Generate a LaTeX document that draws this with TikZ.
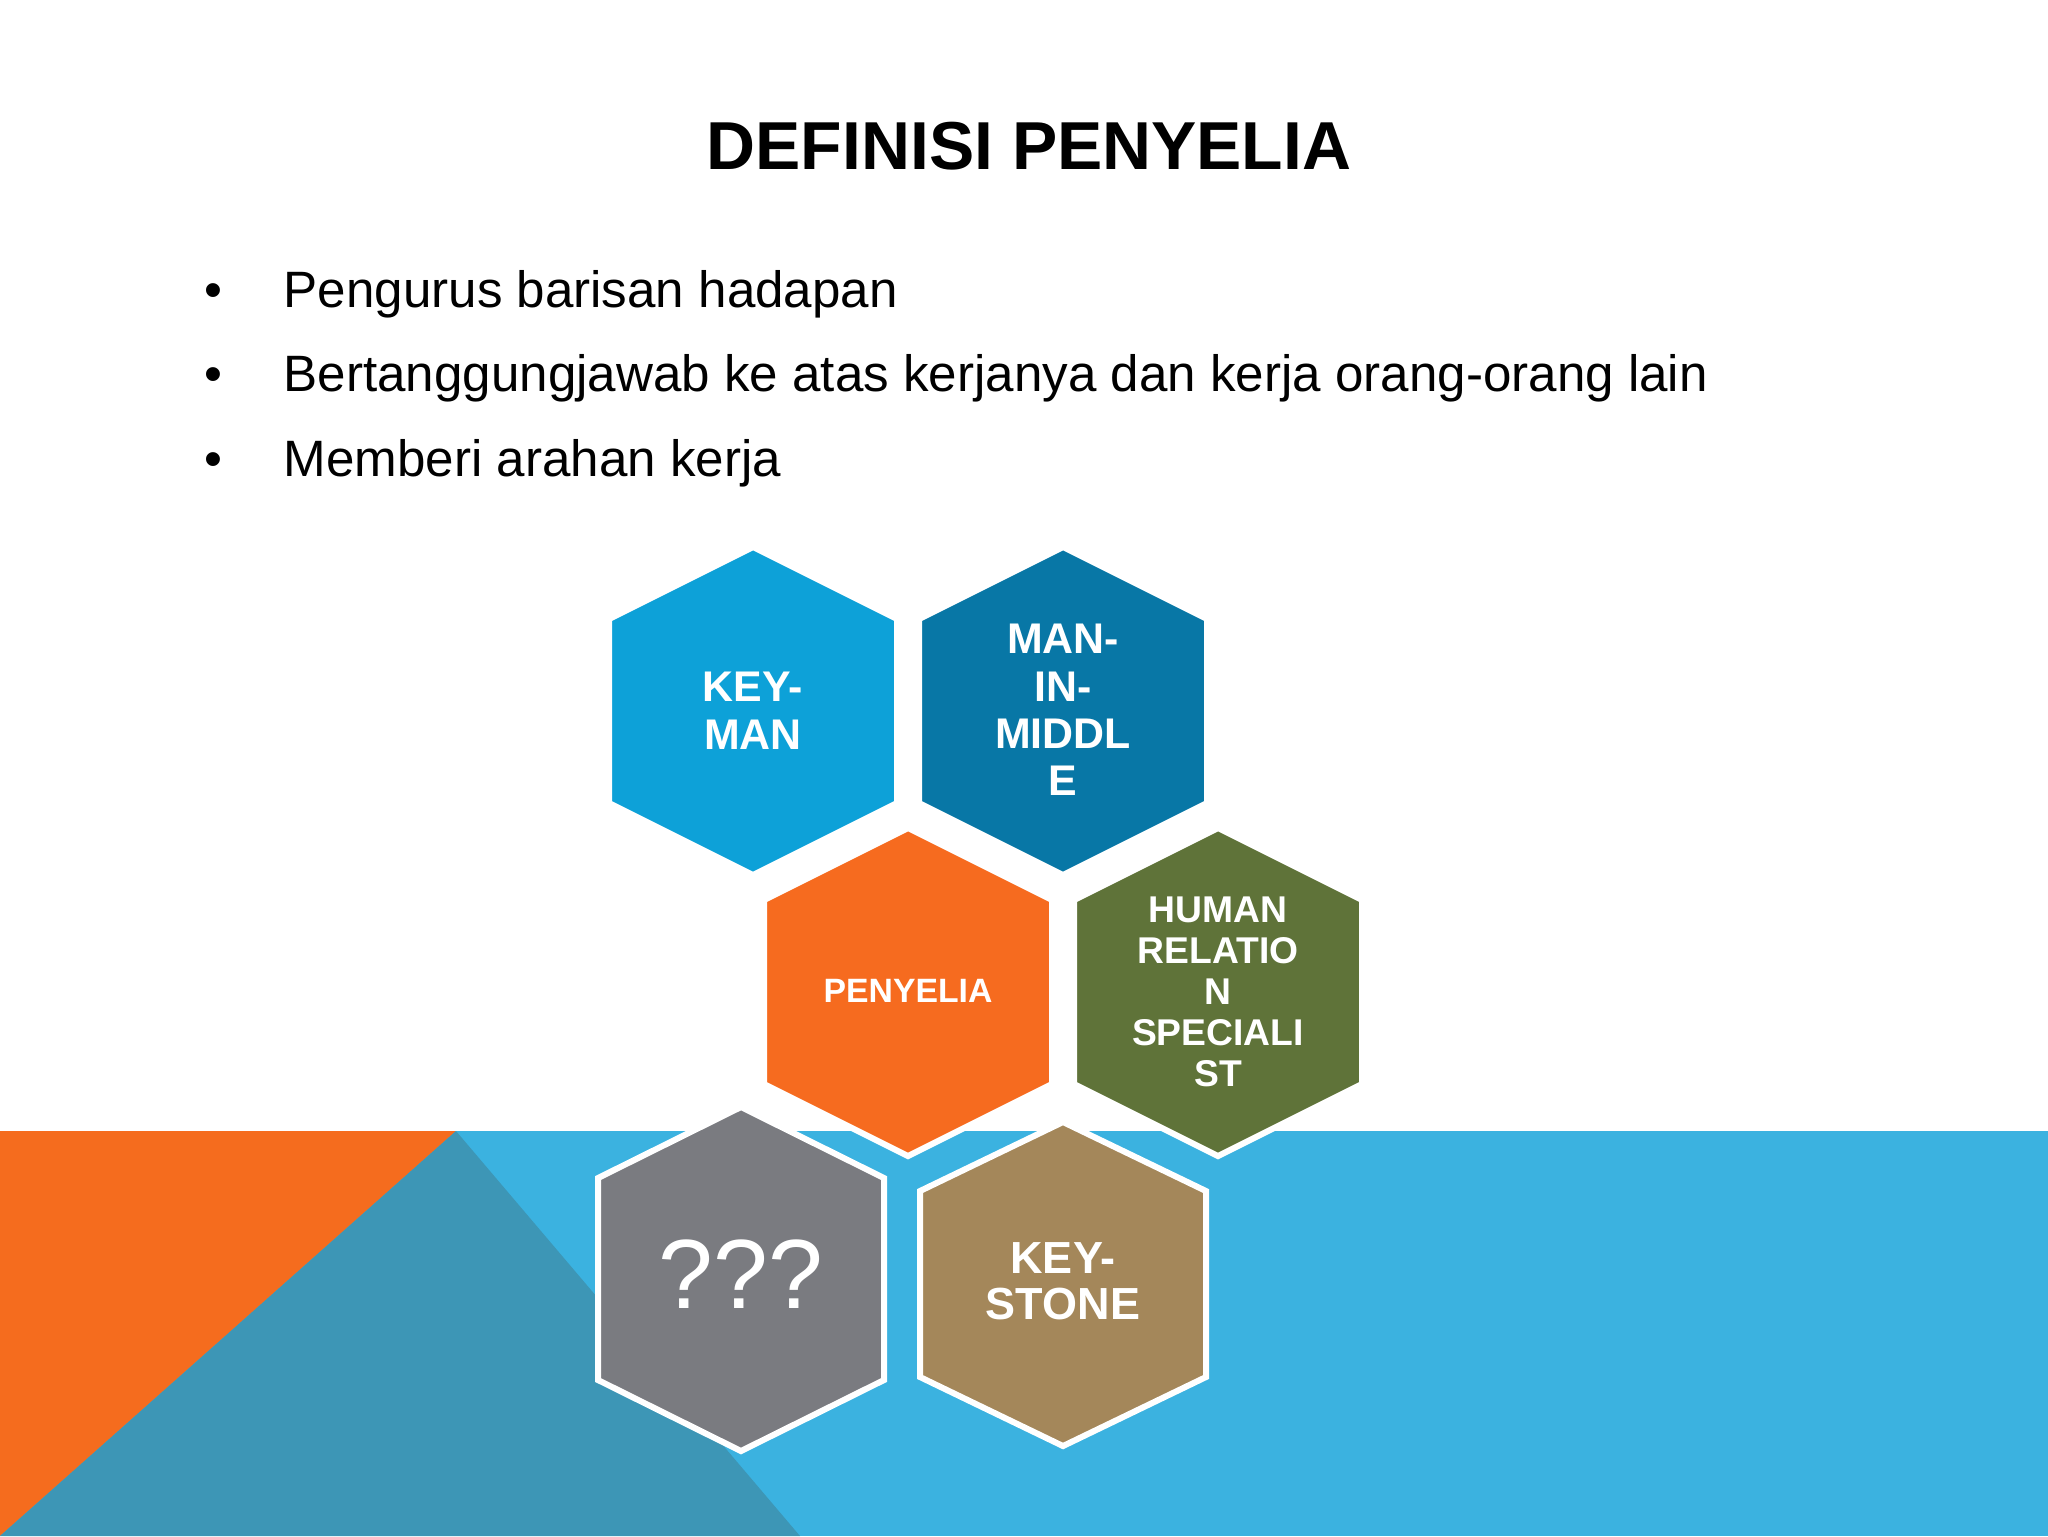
\documentclass[tikz,border=0pt]{standalone}
\usepackage{fontspec}
\setmainfont{Liberation Sans}
\usetikzlibrary{positioning}

\definecolor{bandblue}{RGB}{59,178,224}
\definecolor{bandteal}{RGB}{61,150,182}
\definecolor{bandorange}{RGB}{245,108,30}
\definecolor{hexkey}{RGB}{13,161,216}
\definecolor{hexmid}{RGB}{8,119,166}
\definecolor{hexpen}{RGB}{246,107,31}
\definecolor{hexhum}{RGB}{95,115,57}
\definecolor{hexask}{RGB}{122,123,128}
\definecolor{hexstone}{RGB}{164,135,90}

\tikzset{
  hexa/.style={draw=white,line width=0.6mm,line join=miter},
  hexlabel/.style={text=white,align=center,inner sep=0pt},
  bulletline/.style={anchor=base west,inner sep=0pt,font=\fontsize{14.55}{17}\selectfont}
}

\begin{document}
\begin{tikzpicture}[x=0.1mm,y=-0.1mm]
\useasboundingbox (0,0) rectangle (2048,1536);

% coloured band at the foot
\fill[bandblue] (0,1131) rectangle (2048,1536);
\fill[bandorange] (0,1131) -- (456,1131) -- (0,1536) -- cycle;
\fill[bandteal] (456,1131) -- (0,1536) -- (800,1536) -- cycle;

% title and points
\node[anchor=base,inner sep=0pt,font=\bfseries\fontsize{19.3}{23}\selectfont] (title) at (1029,169) {DEFINISI PENYELIA};

\def\points{1/{Pengurus barisan hadapan},2/{Bertanggungjawab ke atas kerjanya dan kerja orang-orang lain},3/{Memberi arahan kerja}}
\foreach \i / \item in \points {
  \node[bulletline] (p\i) at (283,307+84.5*\i-84.5) {\item};
  \node[bulletline,anchor=base] (d\i) at (213,307+84.5*\i-84.5) {\textbullet};
}

% hexagons: name/x/y/half width/top/shoulder/colour
\foreach \n / \cx / \cy / \w / \t / \s / \col in {km/753/711/144/164/92/hexkey,
    mim/1063/711/144/164/92/hexmid,
    pen/908/992/144/164/92/hexpen,
    hum/1218/992/144/164/92/hexhum,
    ask/741/1279/143/172/101/hexask,
    ks/1063/1284/143/162/93/hexstone}
  \filldraw[hexa,fill=\col] (\cx,\cy-\t) -- (\cx+\w,\cy-\s) -- (\cx+\w,\cy+\s)
    -- (\cx,\cy+\t) -- (\cx-\w,\cy+\s) -- (\cx-\w,\cy-\s) -- cycle;

\node[hexlabel,font=\bfseries\fontsize{12.2}{13.6}\selectfont] (keyman) at (753,711) {KEY-\\MAN};
\node[hexlabel,font=\bfseries\fontsize{12.2}{13.5}\selectfont] (middle) at (1063,710) {MAN-\\IN-\\MIDDL\\E};
\node[hexlabel,font=\bfseries\fontsize{9.6}{11}\selectfont] (penyelia) at (908,991) {PENYELIA};
\node[hexlabel,font=\bfseries\fontsize{10.6}{11.7}\selectfont] (human) at (1218,992) {HUMAN\\RELATIO\\N\\SPECIALI\\ST};
\node[hexlabel,font=\fontsize{28}{30}\selectfont] (unknown) at (741,1274) {???};
\node[hexlabel,font=\bfseries\fontsize{12.8}{13.2}\selectfont] (keystone) at (1063,1281) {KEY-\\STONE};

\end{tikzpicture}
\end{document}
